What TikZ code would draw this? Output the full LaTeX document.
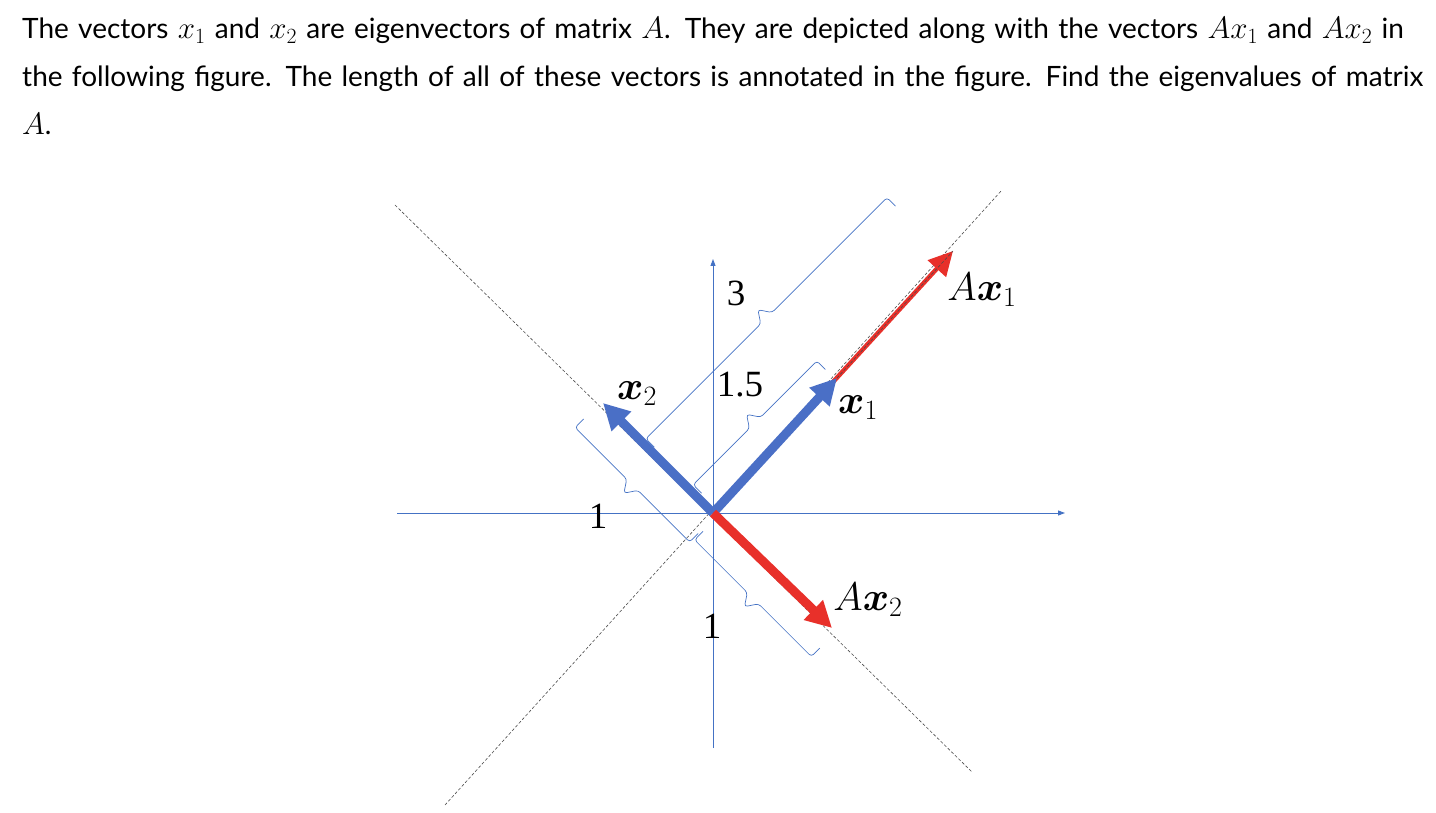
\RequirePackage{fix-cm}
\documentclass[tikz,border=0pt]{standalone}
\usepackage{fontspec}
\usepackage{amsmath,bm}
\setmainfont{Lato}
\newfontfamily\numfont{Liberation Serif}
\usetikzlibrary{arrows.meta}
\definecolor{axblue}{HTML}{4472C4}
\definecolor{vblue}{HTML}{4A6FC6}
\definecolor{vred}{HTML}{E8302A}
\newcommand{\mth}[1]{{\fontsize{31}{48}\selectfont$#1$}}
\tikzset{
  axis/.style={axblue, line width=0.9pt, -{Triangle[length=7pt,width=5pt]}},
  diag/.style={black!70, dashed, line width=0.6pt, dash pattern=on 3pt off 2pt},
  vec/.style={line width=9pt, -{Triangle[length=26pt,width=26pt]}},
  brk/.style={axblue, line width=0.7pt, rounded corners=3pt},
  lab/.style={font=\fontsize{40}{44}\selectfont, inner sep=0pt},
  num/.style={font=\fontsize{37}{40}\selectfont\numfont, inner sep=0pt}
}
\newcommand{\brkdraw}[5]{%
  \begin{scope}[shift={(O)}, rotate=#1]
    \draw[brk] (#2,#4-#5*12) -- (#2,#4) -- ({(#2+#3)/2-8},#4) -- ({(#2+#3)/2},#4+#5*12) -- ({(#2+#3)/2+8},#4) -- (#3,#4) -- (#3,#4-#5*12);
  \end{scope}}
\begin{document}
\begin{tikzpicture}[x=1pt,y=1pt]
\useasboundingbox (0,0) rectangle (1436,812);
\node[anchor=north west, text width=1412pt, align=left, inner sep=0pt,
  font=\fontsize{28}{48}\selectfont] (txt) at (22,795)
  {\hyphenpenalty=10000 The vectors \mth{x_1} and \mth{x_2} are eigenvectors of matrix \mth{A}. They are depicted along with the vectors \mth{Ax_1} and \mth{Ax_2} in the following figure. The length of all of these vectors is annotated in the figure. Find the eigenvalues of matrix \mth{A}.};
\coordinate (O) at (713,299);
\coordinate (hl) at (397,299);
\coordinate (hr) at (1065,299);
\coordinate (vb) at (713,64);
\coordinate (vt) at (713,553);
\coordinate (d1a) at (395,607);
\coordinate (d1b) at (972,40);
\coordinate (d2a) at (445,7);
\coordinate (d2b) at (1002,622);
\draw[diag] (d1a) -- (d1b);
\draw[diag] (d2a) -- (d2b);
\draw[axis] (hl) -- (hr);
\draw[axis] (vb) -- (vt);
\brkdraw{45}{5}{346}{100}{1}
\brkdraw{45}{6}{181}{34}{1}
\brkdraw{135}{-4}{158}{37}{1}
\brkdraw{-45}{6}{171}{-32}{-1}
\coordinate (ax1) at (953,561);
\coordinate (x1) at (837,434);
\coordinate (x2) at (603,409);
\coordinate (ax2) at (832,184);
\draw[vred, line width=4.5pt, -{Triangle[length=24pt,width=24pt]}] (O) -- (ax1);
\draw[diag] (x1) -- (ax1);
\draw[vec, vblue] (O) -- (x1);
\draw[vec, vblue] (O) -- (x2);
\draw[vec, vred] (O) -- (ax2);
\node[lab] (lax1) at (982,522) {$A\bm{x}_1$};
\node[lab] (lx1) at (858,404) {$\bm{x}_1$};
\node[lab] (lx2) at (637,418) {$\bm{x}_2$};
\node[lab] (lax2) at (868,212) {$A\bm{x}_2$};
\node[num] (n3) at (736,519) {3};
\node[num] (n15) at (740,427) {1.5};
\node[num] (n1a) at (598,296) {1};
\node[num] (n1b) at (712,186) {1};
\end{tikzpicture}
\end{document}
